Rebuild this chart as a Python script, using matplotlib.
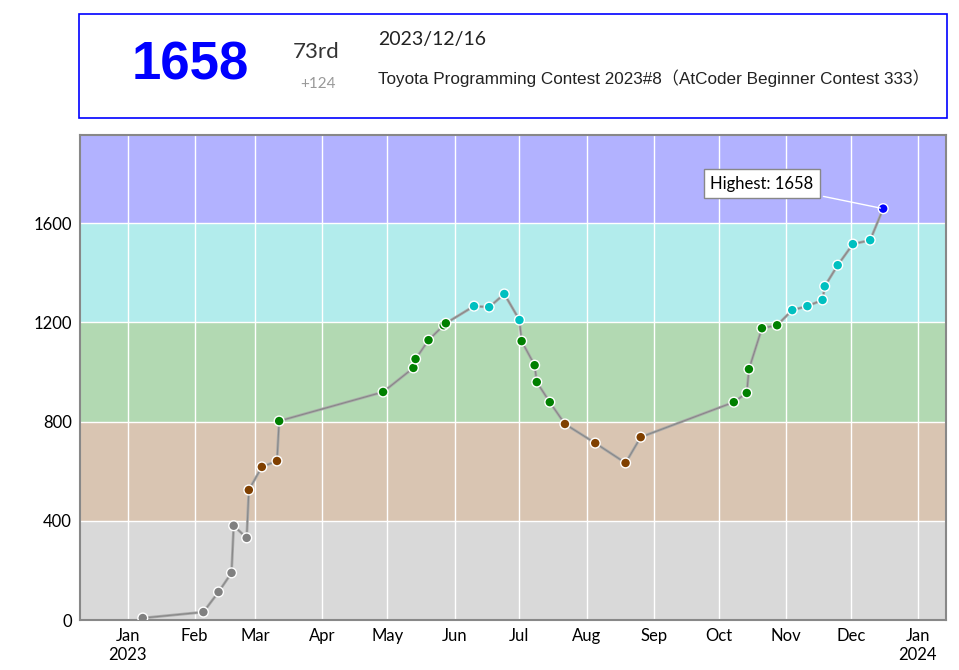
import matplotlib
matplotlib.use("Agg")
import matplotlib.pyplot as plt
import pandas as pd
from matplotlib.patches import Rectangle

plt.rcParams["font.family"] = ["Lato", "DejaVu Sans"]

dates = ["2023-01-08", "2023-02-05", "2023-02-12", "2023-02-18", "2023-02-19",
         "2023-02-25", "2023-02-26", "2023-03-04", "2023-03-11", "2023-03-12",
         "2023-04-29", "2023-05-13", "2023-05-14", "2023-05-20", "2023-05-27",
         "2023-05-28", "2023-06-10", "2023-06-17", "2023-06-24", "2023-07-01",
         "2023-07-02", "2023-07-08", "2023-07-09", "2023-07-15", "2023-07-22",
         "2023-08-05", "2023-08-19", "2023-08-26", "2023-10-08", "2023-10-14",
         "2023-10-15", "2023-10-21", "2023-10-28", "2023-11-04", "2023-11-11",
         "2023-11-18", "2023-11-19", "2023-11-25", "2023-12-02", "2023-12-10",
         "2023-12-16"]
ratings = [8, 32, 113, 190, 380, 331, 524, 617, 641, 802,
           919, 1016, 1052, 1128, 1188, 1196, 1265, 1261, 1314, 1209,
           1124, 1027, 959, 878, 790, 713, 633, 737, 878, 915,
           1011, 1176, 1188, 1249, 1265, 1290, 1345, 1430, 1515, 1531,
           1658]

bands = [(0, 400, "#D9D9D9", "#808080"), (400, 800, "#D9C5B2", "#804000"),
         (800, 1200, "#B2D9B2", "#008000"), (1200, 1600, "#B2ECEC", "#00C0C0"),
         (1600, 2000, "#B2B2FF", "#0000FF")]

x = pd.to_datetime(dates)


def color_for(r):
    for lo, hi, _, c in bands:
        if lo <= r < hi:
            return c
    return "#0000FF"


fig = plt.figure(figsize=(9.59, 6.7), dpi=100)
ax = fig.add_axes([0.0834, 0.0746, 0.903, 0.724])
ax.set_xlim(pd.Timestamp("2022-12-10"), pd.Timestamp("2024-01-14"))
ax.set_ylim(0, 1955)
for lo, hi, bg, _ in bands:
    ax.axhspan(lo, hi, color=bg, zorder=0, lw=0)

ax.plot(x, ratings, color="#AAAAAA", lw=2, zorder=2)
ax.plot(x, ratings, color="#888888", lw=0.8, zorder=2)
ax.scatter(x, ratings, c=[color_for(r) for r in ratings], s=50,
           edgecolors="white", linewidths=1, zorder=3)

months = pd.date_range("2023-01-01", "2024-01-01", freq="MS")
ax.set_xticks(months)
ax.set_xticklabels([m.strftime("%b") + ("\n%d" % m.year if m.month == 1 else "") for m in months])
ax.set_yticks([0, 400, 800, 1200, 1600])
ax.grid(True, color="white", lw=1)
ax.tick_params(length=0, labelsize=12, pad=6)
for s in ax.spines.values():
    s.set_color("#888888")
    s.set_linewidth(1.5)

ax.annotate("Highest: 1658", xy=(x[-1], ratings[-1]), xytext=(pd.Timestamp("2023-10-21"), 1758),
            ha="center", va="center", fontsize=12,
            bbox=dict(boxstyle="square,pad=0.4", fc="white", ec="#888888"),
            arrowprops=dict(arrowstyle="-", color="white", lw=1), zorder=5)

fig.patches.append(Rectangle((79 / 959, 1 - 118 / 670), 868 / 959, 104 / 670,
                             transform=fig.transFigure, fill=False, ec="#0000FF", lw=1.2))
fig.text(190 / 959, 1 - 66 / 670, "1658", color="#0000FF", fontsize=38, fontweight="heavy",
         ha="center", va="center", family=["Liberation Sans"])
fig.text(316 / 959, 1 - 52 / 670, "73rd", fontsize=16, ha="center", va="center", color="#333333")
fig.text(318 / 959, 1 - 84 / 670, "+124", fontsize=11, ha="center", va="center", color="#999999")
fig.text(378 / 959, 1 - 40 / 670, "2023/12/16", fontsize=14, va="center", color="#222222")
fig.text(378 / 959, 1 - 78 / 670, "Toyota Programming Contest 2023#8\uff08AtCoder Beginner Contest 333\uff09",
         fontsize=12.3, va="center", color="#222222",
         family=["Liberation Sans", "Noto Sans CJK JP"])

fig.savefig("out.png", dpi=100)
